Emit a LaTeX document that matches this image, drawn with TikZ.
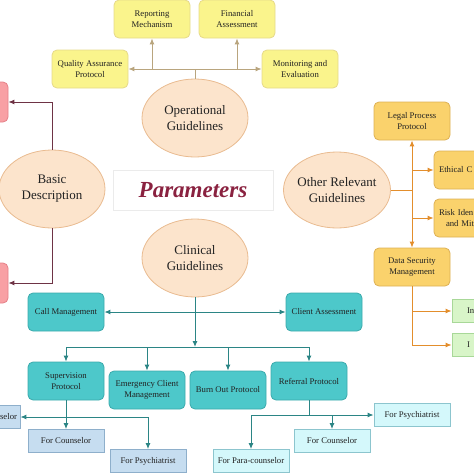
\documentclass[tikz,border=0pt]{standalone}
\usepackage{fontspec}
\setmainfont{Liberation Serif}
\usetikzlibrary{arrows.meta, shapes.geometric, positioning}

\definecolor{yelfill}{HTML}{FAF48C}
\definecolor{yeldraw}{HTML}{E6D98A}
\definecolor{yelline}{HTML}{B9A57E}
\definecolor{peach}{HTML}{FCE4CC}
\definecolor{peachdraw}{HTML}{E9BB90}
\definecolor{pinkfill}{HTML}{F8A0A4}
\definecolor{pinkdraw}{HTML}{E58088}
\definecolor{maroon}{HTML}{6E3345}
\definecolor{paramred}{HTML}{8A2240}
\definecolor{orgfill}{HTML}{FAD26C}
\definecolor{orgdraw}{HTML}{DDB055}
\definecolor{orgline}{HTML}{E38E2C}
\definecolor{grnfill}{HTML}{D8F5C8}
\definecolor{grndraw}{HTML}{A8D898}
\definecolor{tealfill}{HTML}{4DC8CA}
\definecolor{tealdraw}{HTML}{3BA9AB}
\definecolor{tealline}{HTML}{2B8585}
\definecolor{bluefill}{HTML}{C6DDF0}
\definecolor{bluedraw}{HTML}{8EAFCB}
\definecolor{cyanfill}{HTML}{D4F8FB}
\definecolor{cyandraw}{HTML}{8CC5CE}
\definecolor{txt}{HTML}{222222}

\begin{document}
\begin{tikzpicture}[x=1pt, y=-1pt,
    box/.style = {rectangle, rounded corners=5pt, line width=0.8pt, align=center,
                  text=txt, font=\fontsize{8.7}{10.5}\selectfont, inner sep=1pt,
                  minimum width=76pt, minimum height=38pt},
    ybox/.style = {box, fill=yelfill, draw=yeldraw},
    obox/.style = {box, fill=orgfill, draw=orgdraw},
    tbox/.style = {box, fill=tealfill, draw=tealdraw},
    flat/.style = {box, rounded corners=0pt, minimum height=23pt},
    bbox/.style = {flat, fill=bluefill, draw=bluedraw},
    cbox/.style = {flat, fill=cyanfill, draw=cyandraw},
    gbox/.style = {flat, fill=grnfill, draw=grndraw, text width=46pt, align=left, inner xsep=3pt},
    pbox/.style = {box, fill=pinkfill, draw=pinkdraw, minimum width=40pt, minimum height=40pt},
    cutl/.style = {text width=66pt, align=left, inner xsep=5pt},
    cutr/.style = {text width=70pt, align=right, inner xsep=3pt},
    oval/.style = {ellipse, fill=peach, draw=peachdraw, line width=0.8pt, align=center,
                   text=txt, font=\fontsize{13}{16}\selectfont, inner sep=-3pt,
                   minimum width=106pt, minimum height=78pt},
    yline/.style = {draw=yelline, line width=1pt, -{Latex[length=6pt,width=5pt]}},
    mline/.style = {draw=maroon, line width=1pt, -{Latex[length=6pt,width=5pt]}},
    oline/.style = {draw=orgline, line width=1pt, -{Latex[length=6pt,width=5pt]}},
    tline/.style = {draw=tealline, line width=1pt, -{Latex[length=6pt,width=5pt]}}]
\useasboundingbox (0,0) rectangle (474,474);
\clip (0,0) rectangle (474,474);

% operational guidelines
\node[ybox] (report)  at (152,19) {Reporting\\Mechanism};
\node[ybox] (finance) at (237,19) {Financial\\Assessment};
\node[ybox] (quality) at (90,69)  {Quality Assurance\\Protocol};
\node[ybox] (monitor) at (300,69) {Monitoring and\\Evaluation};
\node[oval] (oper)    at (195,118) {Operational\\Guidelines};
\draw[yline, -] (oper.north) -- (oper.north |- quality.east);
\draw[yline] (oper.north |- quality.east) -- (quality.east);
\draw[yline] (oper.north |- monitor.west) -- (monitor.west);
\draw[yline] (report.south |- quality.east) -- (report.south);
\draw[yline] (finance.south |- quality.east) -- (finance.south);

% basic description
\node[pbox] (pinktop) at (-12,102) {};
\node[pbox] (pinkbot) at (-12,283) {};
\node[oval] (basic)   at (52,189) {Basic\\Description};
\draw[mline] (basic.north) |- (pinktop.east);
\draw[mline] (basic.south) |- (pinkbot.east);

% title
\node[rectangle, draw=black!8, fill=white, minimum width=160pt, minimum height=40pt,
      text=paramred, font=\fontsize{23}{26}\selectfont\bfseries\itshape] (param) at (193,190) {Parameters};

% other relevant guidelines
\node[oval, minimum width=107pt, minimum height=76pt] (other) at (337,190) {Other Relevant\\Guidelines};
\node[obox] (legal)   at (412,121) {Legal Process\\Protocol};
\node[obox, cutl] (ethical) at (472,170) {Ethical C};
\node[obox, cutl] (risk)    at (472,218) {Risk Iden\\\hspace*{7pt}and Mit};
\node[obox] (datasec) at (412,267) {Data Security\\Management};
\node[gbox] (green1) at (490,311) {In};
\node[gbox] (green2) at (490,345) {I};
\draw[oline, -] (other.east) -- (legal.south |- other.east);
\draw[oline, {Latex[length=6pt,width=5pt]}-{Latex[length=6pt,width=5pt]}] (legal.south) -- (datasec.north);
\draw[oline] (legal.south |- ethical.west) -- (ethical.west);
\draw[oline] (legal.south |- risk.west) -- (risk.west);
\draw[oline] (datasec.south) |- (green1.west);
\draw[oline] (datasec.south) |- (green2.west);

% clinical guidelines
\node[oval] (clin)   at (195,258) {Clinical\\Guidelines};
\node[tbox] (call)   at (66,312)  {Call Management};
\node[tbox] (client) at (324,312) {Client Assessment};
\node[tbox] (super)  at (66,381)  {Supervision\\Protocol};
\node[tbox] (emerg)  at (147,390) {Emergency Client\\Management};
\node[tbox] (burn)   at (228,390) {Burn Out Protocol};
\node[tbox] (refer)  at (309,381) {Referral Protocol};
\coordinate (tj) at (195,347);
\draw[tline, {Latex[length=6pt,width=5pt]}-{Latex[length=6pt,width=5pt]}] (call.east) -- (client.west);
\draw[tline] (clin.south) -- (tj);
\draw[tline, -] (super.north |- tj) -- (refer.north |- tj);
\foreach \n in {super, emerg, burn, refer}
    \draw[tline] (\n.north |- tj) -- (\n.north);

% supervision
\node[bbox, cutr] (cutsel) at (-18,417) {selor};
\node[bbox] (sucoun) at (66,441)  {For Counselor};
\node[bbox] (supsy)  at (148,461) {For Psychiatrist};
\draw[tline] (super.south) -- (sucoun.north);
\draw[tline] (super.south |- cutsel.east) -- (cutsel.east);
\draw[tline] (super.south |- cutsel.east) -| (supsy.north);

% referral
\node[cbox] (repsy)  at (412,415) {For Psychiatrist};
\node[cbox] (recoun) at (332,441) {For Counselor};
\node[cbox] (repara) at (251,461) {For Para-counselor};
\draw[tline, -] (refer.south) -- (refer.south |- repsy.west);
\draw[tline] (repara.north |- repsy.west) -- (repsy.west);
\draw[tline] (recoun.north |- repsy.west) -- (recoun.north);
\draw[tline] (repara.north |- repsy.west) -- (repara.north);
\end{tikzpicture}
\end{document}
